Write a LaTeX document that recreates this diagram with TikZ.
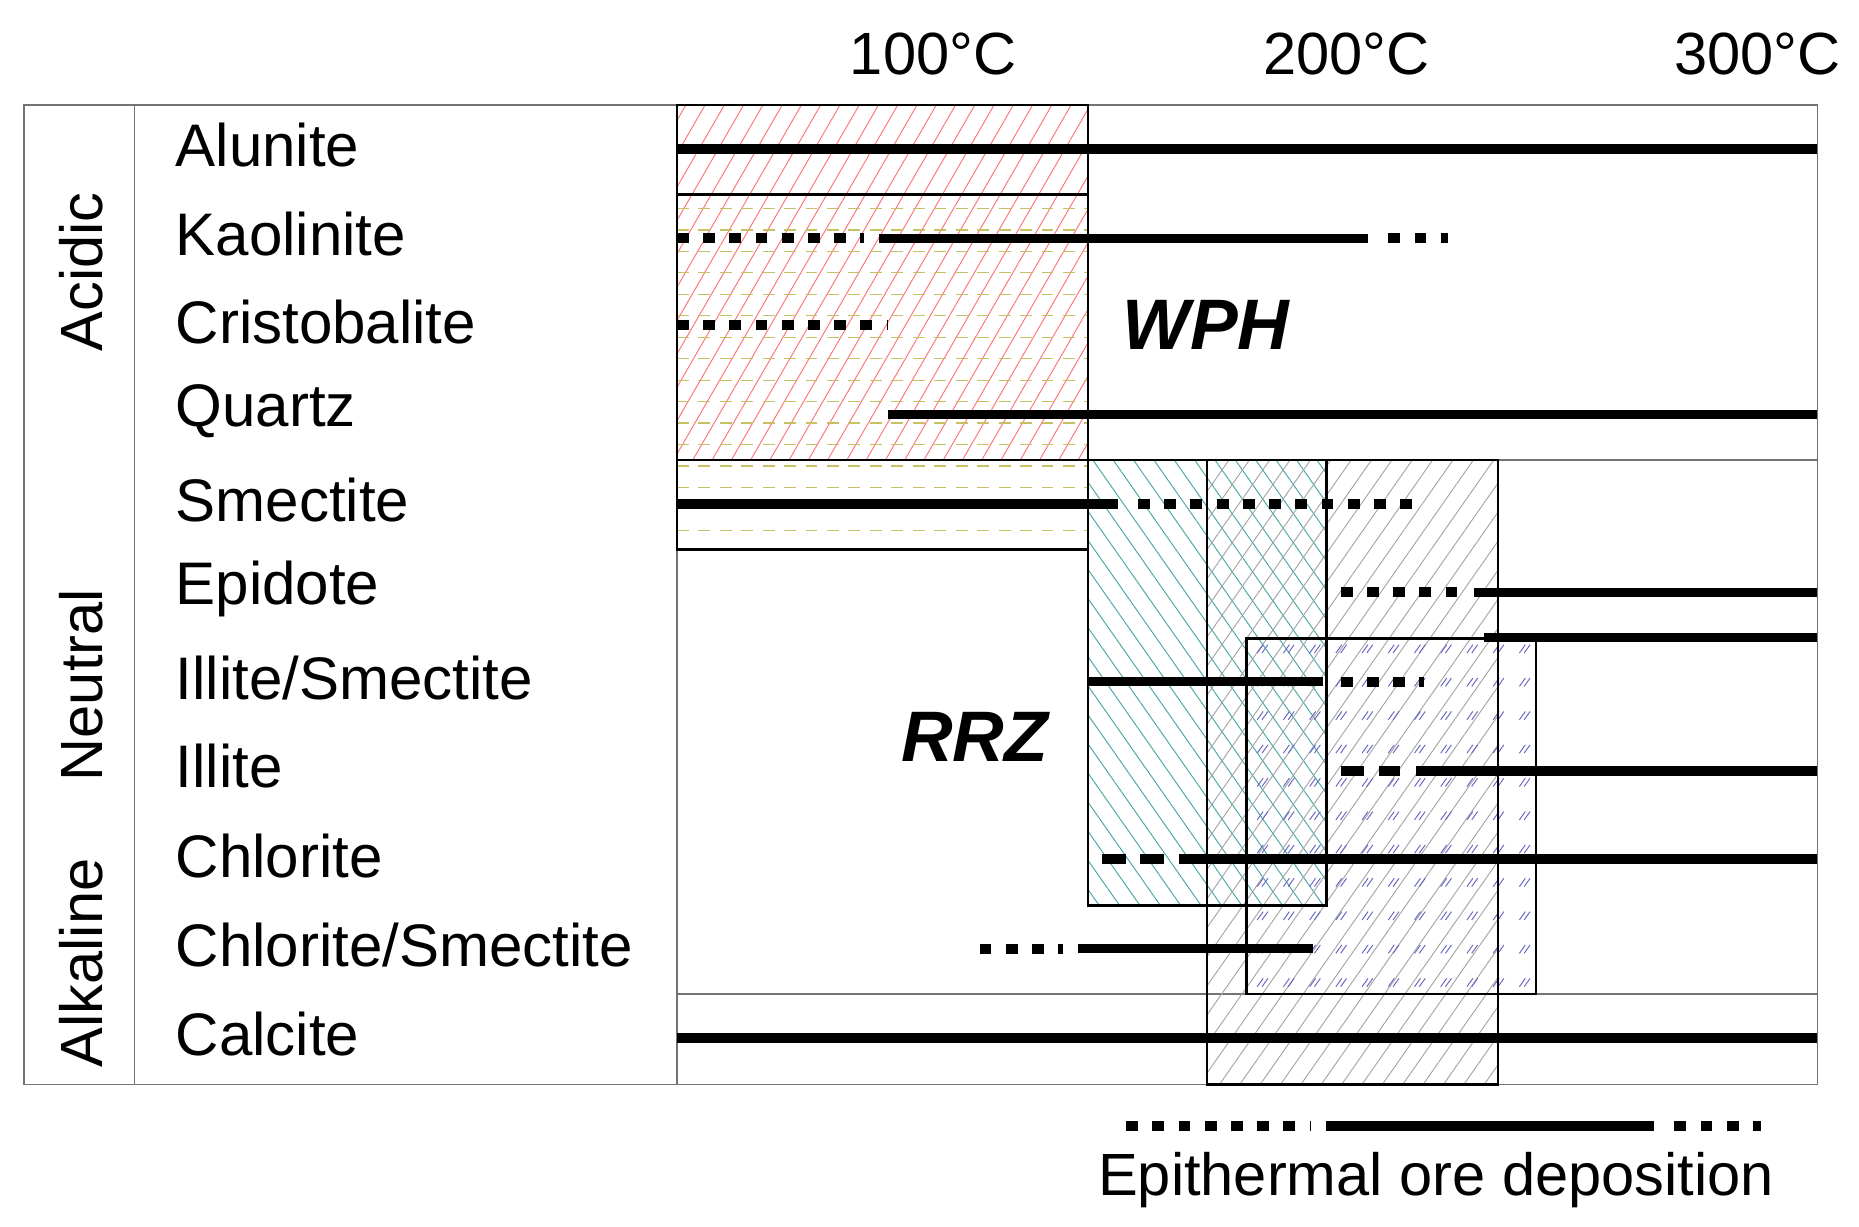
\documentclass[tikz,border=0pt]{standalone}
\usepackage{fontspec}
\setmainfont{Liberation Sans}
\usetikzlibrary{patterns.meta}
\begin{document}
\begin{tikzpicture}[x=0.5pt,y=-0.5pt,
  lbl/.style={anchor=west,font=\fontsize{25.2}{28}\selectfont,inner sep=0},
  grp/.style={rotate=90,font=\fontsize{25}{28}\selectfont,inner sep=0},
  tmp/.style={font=\fontsize{25}{28}\selectfont,inner sep=0},
  zone/.style={font=\fontsize{30}{34}\selectfont\bfseries\itshape,inner sep=0},
  thin/.style={draw=black!55,line width=0.6pt},
  box/.style={draw=black,line width=1.1pt},
  sol/.style={line width=4pt},
  dot/.style={line width=4.2pt,dash pattern=on 5pt off 6pt}]
\useasboundingbox (0,0) rectangle (1560,1029);
% frame
\draw[thin] (20,88) rectangle (1525,910);
\draw[thin] (113,88) -- (113,910);
\draw[thin] (568,88) -- (568,910);
\draw[thin] (568,386) -- (1525,386);
\draw[thin] (568,834) -- (1525,834);
% WPH hatching
\fill[pattern={Lines[angle=60,distance=7pt,line width=0.4pt]},pattern color=red!55] (568,88) rectangle (913,386);
\begin{scope}
\clip (568,163) rectangle (913,461);
\foreach \y in {175,193,...,461} \draw[olive!50,line width=0.5pt,dash pattern=on 5pt off 4pt] (568,\y) -- (913,\y);
\end{scope}
% RRZ hatching
\fill[pattern={Lines[angle=-55,distance=7pt,line width=0.4pt]},pattern color=teal!70] (913,386) rectangle (1113,760);
\fill[pattern={Lines[angle=55,distance=7pt,line width=0.4pt]},pattern color=black!35] (1013,386) rectangle (1257,910);
\begin{scope}
\clip (1046,536) rectangle (1289,834);
\foreach \x in {1055,1077,...,1290} \foreach \y in {548,576,...,834}
  \draw[blue!60!black!60,line width=0.4pt] (\x,\y) -- ++(5,-7) (\x+4,\y) -- ++(5,-7);
\end{scope}
% boxes
\draw[box] (568,88) rectangle (913,461);
\draw[box] (568,163) -- (913,163);
\draw[box] (568,386) -- (913,386);
\draw[box] (913,386) rectangle (1113,760);
\draw[box] (1013,386) rectangle (1257,910);
\draw[box] (1046,536) rectangle (1289,834);
% texts
\node[tmp] (t1) at (783,45) {100°C};
\node[tmp] (t2) at (1130,45) {200°C};
\node[tmp] (t3) at (1475,45) {300°C};
\node[grp] (g1) at (68,228) {Acidic};
\node[grp] (g2) at (68,575) {Neutral};
\node[grp] (g3) at (68,808) {Alkaline};
\foreach \n/\t/\y in {a/Alunite/122,b/Kaolinite/196,c/Cristobalite/270,d/Quartz/345,e/Smectite/420,f/Epidote/494,g/Illite\slash Smectite/569,h/Illite/643,i/Chlorite/718,j/Chlorite\slash Smectite/793,k/Calcite/868}
  \node[lbl] (\n) at (147,\y) {\t};
\node[zone] (wphl) at (1012,273) {WPH};
\node[zone] (rrz) at (818,618) {RRZ};
% ranges
\draw[sol] (568,125) -- (1525,125);
\draw[dot] (568,200) -- (725,200); \draw[sol] (738,200) -- (1148,200); \draw[dot] (1165,200) -- (1215,200);
\draw[dot] (568,273) -- (745,273);
\draw[sol] (745,348) -- (1525,348);
\draw[sol] (568,423) -- (938,423); \draw[dot] (955,423) -- (1195,423);
\draw[dot] (1125,497) -- (1225,497); \draw[sol] (1237,497) -- (1525,497);
\draw[sol] (1245,535) -- (1525,535);
\draw[sol] (913,572) -- (1110,572); \draw[dot] (1125,572) -- (1195,572);
\draw[sol,dash pattern=on 10pt off 6pt] (1125,647) -- (1175,647); \draw[sol] (1188,647) -- (1525,647);
\draw[sol,dash pattern=on 10pt off 6pt] (925,721) -- (990,721); \draw[sol] (990,721) -- (1525,721);
\draw[dot] (822,796) -- (892,796); \draw[sol] (905,796) -- (1102,796);
\draw[sol] (568,871) -- (1525,871);
% legend
\draw[dot] (945,945) -- (1100,945); \draw[sol] (1113,945) -- (1388,945); \draw[dot] (1405,945) -- (1478,945);
\node[tmp] (leg) at (1205,990) {Epithermal ore deposition};
\end{tikzpicture}
\end{document}
